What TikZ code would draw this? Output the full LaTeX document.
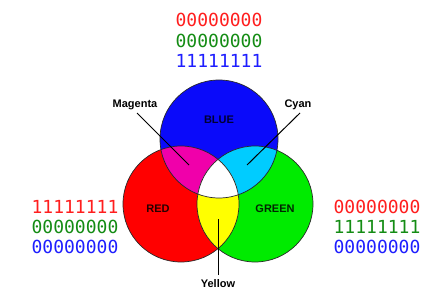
\documentclass[tikz,border=0pt]{standalone}
\usepackage{fontspec}
\setmainfont{Liberation Sans}
\newfontfamily\binfont{DejaVu Sans Mono}
\definecolor{cred}{RGB}{255,0,0}
\definecolor{cgreen}{RGB}{0,235,0}
\definecolor{cblue}{RGB}{10,10,250}
\definecolor{cmag}{RGB}{240,0,170}
\definecolor{ccyan}{RGB}{0,204,255}
\definecolor{cyel}{RGB}{255,255,0}
\definecolor{tred}{RGB}{255,30,30}
\definecolor{tgreen}{RGB}{20,140,20}
\definecolor{tblue}{RGB}{30,30,255}
\definecolor{edge}{RGB}{40,40,40}
\tikzset{
  bits/.style={font=\binfont\fontsize{18}{18}\selectfont, inner sep=0pt, anchor=center},
  lab/.style={font=\bfseries\fontsize{11}{11}\selectfont, inner sep=0pt, text height=8pt, text depth=0pt, anchor=center},
  ptr/.style={draw=black, line width=1pt},
  rim/.style={draw=edge, line width=0.7pt}
}
\begin{document}
\begin{tikzpicture}[x=1pt,y=-1pt]
\useasboundingbox (0,0) rectangle (446,304);
\coordinate (cb) at (219,139);
\coordinate (cr) at (181,204);
\coordinate (cg) at (255,204);
\def\rb{59}\def\rr{58}
% base fills
\fill[cred] (cr) circle (\rr);
\fill[cgreen] (cg) circle (\rr);
\fill[cblue] (cb) circle (\rb);
% pairwise overlaps
\begin{scope}\clip (cr) circle (\rr); \fill[cmag] (cb) circle (\rb);\end{scope}
\begin{scope}\clip (cg) circle (\rr); \fill[ccyan] (cb) circle (\rb);\end{scope}
\begin{scope}\clip (cr) circle (\rr); \fill[cyel] (cg) circle (\rr);\end{scope}
\begin{scope}\clip (cr) circle (\rr); \clip (cg) circle (\rr); \fill[white] (cb) circle (\rb);\end{scope}
% outlines
\draw[rim] (cr) circle (\rr);
\draw[rim] (cg) circle (\rr);
\draw[rim] (cb) circle (\rb);
% circle labels
\node[lab, text=black!80!blue] (blue) at (219,120) {BLUE};
\node[lab, text=black!85!red] (red) at (158,208) {RED};
\node[lab, text=black!85!green] (green) at (275,208) {GREEN};
% pointer labels
\node[lab] (magenta) at (135,104) {Magenta};
\node[lab] (cyan) at (298,104) {Cyan};
\node[lab] (yellow) at (218,283) {Yellow};
\coordinate (mend) at (189,165);
\coordinate (cend) at (247,165);
\coordinate (yend) at (218,219);
\coordinate (mstart) at (137,113);
\coordinate (cstart) at (300,113);
\coordinate (ystart) at (218,275);
\draw[ptr] (mstart) -- (mend);
\draw[ptr] (cstart) -- (cend);
\draw[ptr] (ystart) -- (yend);
% binary codes
\node[bits, text=tred] (t1) at (219,20) {00000000};
\node[bits, text=tgreen] (t2) at (219,41) {00000000};
\node[bits, text=tblue] (t3) at (219,61) {11111111};
\node[bits, text=tred] (l1) at (75,207) {11111111};
\node[bits, text=tgreen] (l2) at (75,227) {00000000};
\node[bits, text=tblue] (l3) at (75,247) {00000000};
\node[bits, text=tred] (r1) at (377,207) {00000000};
\node[bits, text=tgreen] (r2) at (377,227) {11111111};
\node[bits, text=tblue] (r3) at (377,247) {00000000};
\end{tikzpicture}
\end{document}
